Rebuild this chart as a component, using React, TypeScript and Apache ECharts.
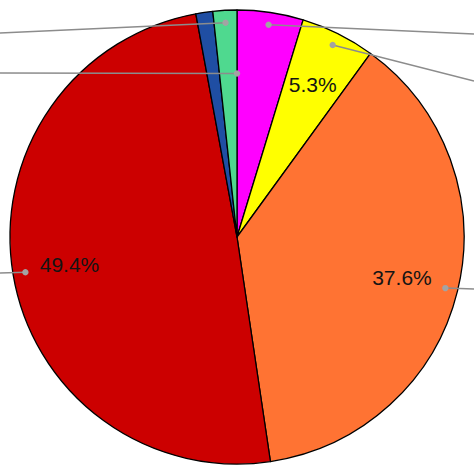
import React, { useEffect, useRef } from 'react';
import * as echarts from 'echarts';

const categories = ['Category A', 'Category B', 'Category C', 'Category D', 'Category E', 'Category F'];
const values = [4.7, 5.3, 37.6, 49.4, 1.2, 1.7];
const colors = ['#ff00ff', '#ffff00', '#ff7333', '#cc0000', '#1f4ea3', '#4fd98f'];
const showInsideLabel = [false, true, true, true, false, false];
// leader lines to (off-chart) label anchors: [slice index, target x, target y]
const leaderTargets: [number, number, number][] = [
  [0, 474, 34],
  [1, 474, 81],
  [2, 474, 289],
  [3, 0, 273],
  [5, 0, 33],
];

const CX = 237;
const CY = 237;
const R = 227;

export default function App() {
  const ref = useRef<HTMLDivElement>(null);
  useEffect(() => {
    const chart = echarts.init(ref.current!, null, { renderer: 'svg' });
    const total = values.reduce((a, b) => a + b, 0);
    const mids: number[] = [];
    let acc = 0;
    values.forEach((v) => {
      mids.push(((acc + v / 2) / total) * 2 * Math.PI);
      acc += v;
    });
    const pt = (ang: number, r: number) => [CX + r * Math.sin(ang), CY - r * Math.cos(ang)];
    const graphics: any[] = [];
    const addLeader = (ang: number, rr: number, tx: number, ty: number) => {
      const [x, y] = pt(ang, rr);
      graphics.push({ type: 'line', z: 100, shape: { x1: x, y1: y, x2: tx, y2: ty }, style: { stroke: '#8c8c8c', lineWidth: 1.5 } });
      graphics.push({ type: 'circle', z: 101, shape: { cx: x, cy: y, r: 3.2 }, style: { fill: '#a3a3a3' } });
    };
    leaderTargets.forEach(([i, tx, ty]) => addLeader(mids[i], R * 0.945, tx, ty));
    // leader from the start boundary (small slice label)
    addLeader(0, R * 0.72, 0, 73);

    const data = categories.map((name, i) => ({
      name,
      value: values[i],
      itemStyle: { color: colors[i] },
    }));
    const labelData = categories.map((name, i) => ({
      name,
      value: values[i],
      label: { show: showInsideLabel[i] },
    }));

    chart.setOption({
      animation: false,
      graphic: { elements: graphics },
      series: [
        {
          type: 'pie',
          center: [CX, CY],
          radius: [0, R],
          startAngle: 90,
          clockwise: true,
          avoidLabelOverlap: false,
          label: { show: false },
          labelLine: { show: false },
          emphasis: { disabled: true },
          itemStyle: { borderColor: '#000', borderWidth: 1.3 },
          data,
        },
        {
          type: 'pie',
          center: [CX, CY],
          radius: [R * 0.47, R],
          startAngle: 90,
          clockwise: true,
          silent: true,
          avoidLabelOverlap: false,
          itemStyle: { color: 'rgba(0,0,0,0)', borderWidth: 0 },
          emphasis: { disabled: true },
          labelLine: { show: false },
          label: {
            show: true,
            position: 'inside',
            formatter: (p: any) => `${p.value}%`,
            fontSize: 21,
            fontFamily: 'Liberation Sans, Arial, sans-serif',
            color: '#141414',
          },
          data: labelData,
        },
      ],
    });
    return () => chart.dispose();
  }, []);
  return (
    <div
      ref={ref}
      style={{ position: 'fixed', left: 0, top: 0, width: 474, height: 474, background: '#fff' }}
    />
  );
}
